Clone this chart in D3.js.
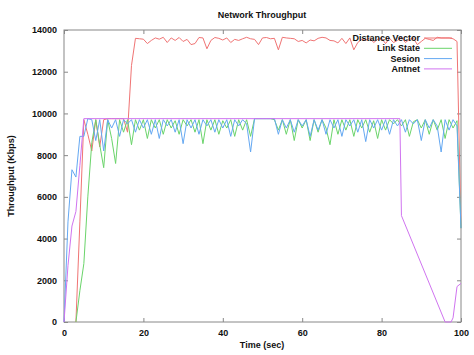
<!DOCTYPE html>
<html>
<head>
<meta charset="utf-8">
<script src="https://cdn.jsdelivr.net/npm/d3@7"></script>
<style>
  body { margin: 0; background: #fff; }
  text { font-family: 'Liberation Sans', Arial, sans-serif; font-weight: bold; fill: #111; }
</style>
</head>
<body>
<script>
// Series names (legend order)
const seriesNames = ['Distance Vector', 'Link State', 'Sesion', 'Antnet']

// Time points (sec) for each series
const dvTimes = d3.range(3, 101)
const lsTimes = d3.range(3, 101)
const sesTimes = d3.range(0, 101)
const antTimes = [0, 1, 2, 3, 4, 5, 84.6, 85, 96, 97.5, 98, 99, 100]

// Throughput values (Kbps)
const dvValues = [
  0, 4800, 9700, 9000, 8200, 9700, 8400, 9700, 9750, 9750, 9750, 9750, 9750, 9100,
  12300, 13600, 13580, 13560, 13350, 13500, 13620, 13560, 13650, 13400, 13620, 13500,
  13640, 13450, 13550, 13300, 13350, 13640, 13620, 13100, 13500, 13640, 13600, 13520,
  13620, 13400, 13550, 13500, 13580, 13650, 13580, 13550, 13300, 13620, 13640, 13580,
  13600, 13050, 13650, 13620, 13600, 13580, 13450, 13500, 13380, 13520, 13480, 13600,
  13650, 13620, 13500, 13480, 13380, 13600, 13350, 13620, 13050, 13400, 13550, 13500,
  13620, 13400, 13550, 13600, 13350, 13600, 13400, 13500, 13650, 13400, 13550, 13600,
  13300, 13450, 13600, 13550, 13500, 13650, 13620, 13620, 13620, 13580, 13450, 4500
]
const lsValues = [
  0, 1500, 2800, 6000, 8600, 9700, 8500, 7400, 9700, 8800, 7600, 9700, 9100, 9700,
  8500, 9700, 9200, 9700, 8800, 9700, 9300, 9700, 9000, 9700, 9300, 9650, 9000, 9700,
  9400, 9700, 9100, 9700, 8550, 9700, 9200, 9700, 9000, 9650, 9300, 9700, 8900, 9700,
  9200, 9700, 8900, 9750, 9750, 9750, 9750, 9750, 9700, 9200, 9700, 9000, 9700, 8700,
  9700, 9300, 9700, 8700, 9700, 9100, 9700, 9300, 8500, 9700, 9000, 9700, 9200, 9700,
  8900, 9700, 9300, 9700, 9100, 9650, 8800, 9700, 9200, 9700, 9500, 9700, 9400, 9700,
  8900, 9600, 9700, 9300, 9700, 9000, 9700, 9200, 9700, 8800, 9700, 9300, 9650, 4500
]
const sesValues = [
  0, 4800, 7300, 6950, 8900, 8900, 9750, 9700, 8700, 9700, 8200, 9700, 9300, 9700,
  8900, 9700, 9500, 9700, 9100, 9700, 9300, 9700, 9000, 9700, 8800, 9700, 9400, 9700,
  9100, 9700, 8550, 9700, 9300, 9700, 9000, 9700, 9400, 9700, 9100, 9700, 9300, 9700,
  8900, 9700, 9400, 9700, 9500, 8150, 9750, 9750, 9750, 9750, 9750, 9750, 9000, 9700,
  9300, 9700, 9100, 9700, 9400, 9700, 8900, 9700, 9200, 9700, 9000, 9700, 9300, 9700,
  8900, 9700, 9400, 9700, 9100, 9700, 8650, 9700, 9300, 9700, 9200, 9700, 9000, 9700,
  9400, 9700, 9100, 9700, 9500, 9700, 8700, 9700, 9300, 9700, 9400, 8150, 9700, 9200,
  9700, 9400, 4500
]
const antValues = [0, 2700, 4600, 5300, 7500, 9750, 9750, 5100, 0, 0, 200, 1700, 1850]

// Axis ticks
const xTicks = [0, 20, 40, 60, 80, 100]
const yTicks = [0, 2000, 4000, 6000, 8000, 10000, 12000, 14000]

const colors = ['#f07474', '#6ad46a', '#64a8f2', '#d074f0']

const width = 474
const height = 355
const margin = { top: 30, right: 13, bottom: 33, left: 64 }
const plotW = width - margin.left - margin.right
const plotH = height - margin.top - margin.bottom

const series = [
  { name: seriesNames[0], times: dvTimes, values: dvValues },
  { name: seriesNames[1], times: lsTimes, values: lsValues },
  { name: seriesNames[2], times: sesTimes, values: sesValues },
  { name: seriesNames[3], times: antTimes, values: antValues },
]

const svg = d3.select('body').append('svg')
  .attr('width', width)
  .attr('height', height)

svg.append('rect').attr('width', width).attr('height', height).attr('fill', '#fff')

const x = d3.scaleLinear().domain([0, 100]).range([margin.left, margin.left + plotW])
const y = d3.scaleLinear().domain([0, 14000]).range([margin.top + plotH, margin.top])

// Title and axis labels
svg.append('text')
  .attr('x', 262).attr('y', 18)
  .attr('text-anchor', 'middle')
  .style('font-size', '9px')
  .text('Network Throughput')

svg.append('text')
  .attr('transform', `translate(14, ${margin.top + plotH / 2}) rotate(-90)`)
  .attr('text-anchor', 'middle')
  .style('font-size', '9px')
  .text('Throughput (Kbps)')

svg.append('text')
  .attr('x', 262).attr('y', 348)
  .attr('text-anchor', 'middle')
  .style('font-size', '9px')
  .text('Time (sec)')

// Axes with inward ticks (mirrored on top/right)
const tickLen = 4
const axisColor = '#888'

const gLeft = svg.append('g').attr('transform', `translate(${margin.left},0)`)
  .call(d3.axisLeft(y).tickValues(yTicks).tickSize(-tickLen).tickPadding(7).tickFormat(d3.format('d')))
const gRight = svg.append('g').attr('transform', `translate(${margin.left + plotW},0)`)
  .call(d3.axisRight(y).tickValues(yTicks).tickSize(-tickLen).tickFormat(''))
const gBottom = svg.append('g').attr('transform', `translate(0,${margin.top + plotH})`)
  .call(d3.axisBottom(x).tickValues(xTicks).tickSize(-tickLen).tickPadding(8))
const gTop = svg.append('g').attr('transform', `translate(0,${margin.top})`)
  .call(d3.axisTop(x).tickValues(xTicks).tickSize(-tickLen).tickFormat(''))

;[gLeft, gRight, gBottom, gTop].forEach(g => {
  g.select('.domain').remove()
  g.selectAll('line').attr('stroke', axisColor)
  g.selectAll('text')
    .style('font-family', "'Liberation Sans', Arial, sans-serif")
    .style('font-weight', 'bold')
    .style('font-size', '9px')
    .attr('fill', '#111')
})

svg.append('rect')
  .attr('x', margin.left).attr('y', margin.top)
  .attr('width', plotW).attr('height', plotH)
  .attr('fill', 'none')
  .attr('stroke', axisColor)

// Lines
const line = d3.line()
  .x(d => x(d[0]))
  .y(d => y(d[1]))

series.forEach((s, i) => {
  const pts = s.times.map((t, j) => [t, s.values[j]])
  svg.append('path')
    .datum(pts)
    .attr('d', line)
    .attr('fill', 'none')
    .attr('stroke', colors[i])
    .attr('stroke-width', 1)
})

// Legend
const legend = svg.append('g')
seriesNames.forEach((name, i) => {
  const ly = 38 + i * 10.3
  legend.append('text')
    .attr('x', 420).attr('y', ly + 3)
    .attr('text-anchor', 'end')
    .style('font-size', '9px')
    .text(name)
  legend.append('line')
    .attr('x1', 424).attr('x2', 452)
    .attr('y1', ly).attr('y2', ly)
    .attr('stroke', colors[i])
    .attr('stroke-width', 1)
})
</script>
</body>
</html>
